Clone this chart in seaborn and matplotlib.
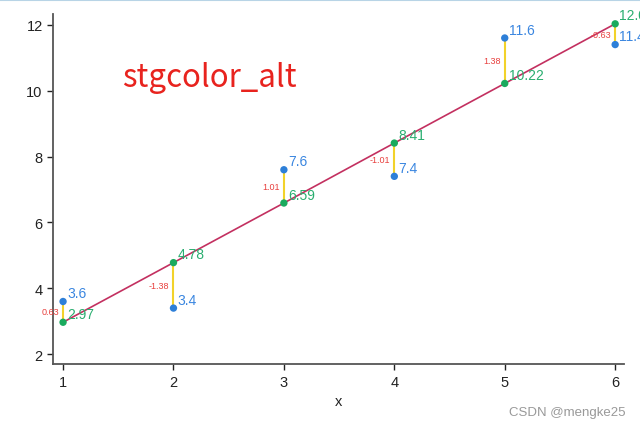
import matplotlib
matplotlib.use("Agg")
import matplotlib.pyplot as plt
import seaborn as sns
import pandas as pd
import numpy as np

x = [1, 2, 3, 4, 5, 6]
y = [3.6, 3.4, 7.6, 7.4, 11.6, 11.4]
yhat = [2.97, 4.78, 6.59, 8.41, 10.22, 12.03]
resid = [0.63, -1.38, 1.01, -1.01, 1.38, -0.63]
y_labels = ["3.6", "3.4", "7.6", "7.4", "11.6", "11.4"]
yhat_labels = ["2.97", "4.78", "6.59", "8.41", "10.22", "12.03"]
resid_labels = ["0.63", "-1.38", "1.01", "-1.01", "1.38", "-0.63"]

sns.set_theme(style="ticks")
plt.rcParams['font.family'] = ['Liberation Sans', 'DejaVu Sans']

df = pd.DataFrame({"x": x, "y": y, "yhat": yhat})

fig = plt.figure(figsize=(6.4, 4.27), dpi=100)
ax = fig.add_axes([0.083, 0.145, 0.892, 0.82])

blue = "#2d7fd8"
green = "#1aaa5e"
line_c = "#c33060"
yellow = "#f2d22a"

# residual segments
ax.vlines(df["x"], df["y"], df["yhat"], colors=yellow, linewidth=1.5, zorder=1)
sns.lineplot(data=df, x="x", y="yhat", color=line_c, linewidth=1.2, ax=ax, zorder=2)
sns.scatterplot(data=df, x="x", y="y", color=blue, s=28, edgecolor="none", ax=ax, zorder=3)
sns.scatterplot(data=df, x="x", y="yhat", color=green, s=28, edgecolor="none", ax=ax, zorder=3)

for xi, yi, lab in zip(x, y, y_labels):
    ax.annotate(lab, (xi, yi), xytext=(3, 1), textcoords="offset points",
                color="#3a86e0", fontsize=10, ha="left", va="bottom")
for xi, yi, lab in zip(x, yhat, yhat_labels):
    ax.annotate(lab, (xi, yi), xytext=(3, 1), textcoords="offset points",
                color="#2aae70", fontsize=10, ha="left", va="bottom")
for xi, yi, yh, lab in zip(x, y, yhat, resid_labels):
    ax.annotate(lab, (xi, (yi + yh) / 2), xytext=(-3, 0), textcoords="offset points",
                color="#e8403e", fontsize=6.5, ha="right", va="center")

ax.text(1.53, 10.42, "stgcolor_alt", color="#e8231e", fontsize=22.5,
        family=["Noto Sans CJK SC", "DejaVu Sans"], ha="left", va="center")

ax.set_xlim(0.91, 6.08)
ax.set_ylim(1.7, 12.33)
ax.set_xticks([1, 2, 3, 4, 5, 6])
ax.set_yticks([2, 4, 6, 8, 10, 12])
ax.set_xlabel("x", fontsize=10.5, color="#222222")
ax.set_ylabel("")
ax.tick_params(axis="both", labelsize=10.5, colors="#222222", length=4, width=1, direction="out")
for s in ["top", "right"]:
    ax.spines[s].set_visible(False)
for s in ["left", "bottom"]:
    ax.spines[s].set_color("#555555")
    ax.spines[s].set_linewidth(1.3)

fig.text(0.977, 0.018, "CSDN @mengke25", color="#999999", fontsize=9.5, ha="right", va="bottom")
fig.add_artist(plt.Line2D([0, 1], [0.998, 0.998], color="#b8d4e6", linewidth=1.5, transform=fig.transFigure))

fig.savefig("out.png", dpi=100)
